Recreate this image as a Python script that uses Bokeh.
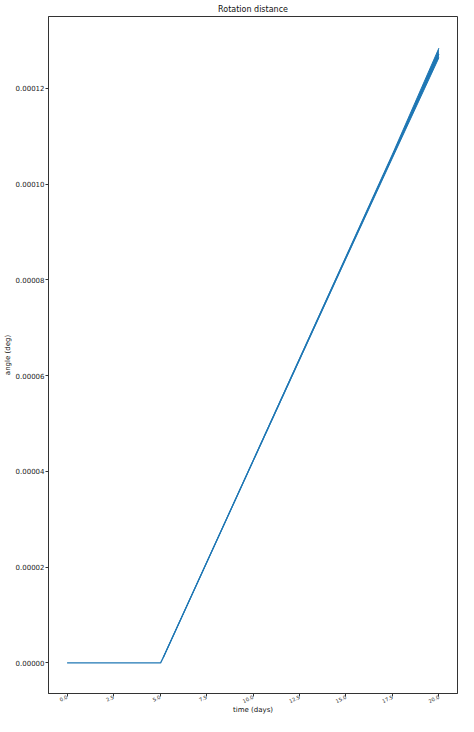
from bokeh.plotting import figure
from bokeh.models import FixedTicker, PrintfTickFormatter, Range1d
from bokeh.embed import file_html
from bokeh.resources import INLINE

# data
time_days = [0.0, 5.03, 5.17, 20.0]
angle_deg = [0.0, 0.0, 1.09e-6, 1.2715e-4]

# envelope of the small oscillations (thickening of the line)
band_time = [5.17, 10.0, 15.0, 17.5, 20.0]
band_low = [1.09e-6, 4.205e-5, 8.44e-5, 1.0545e-4, 1.264e-4]
band_high = [1.09e-6, 4.225e-5, 8.49e-5, 1.0625e-4, 1.284e-4]

x_ticks = [0.0, 2.5, 5.0, 7.5, 10.0, 12.5, 15.0, 17.5, 20.0]
y_ticks = [0.0, 2e-5, 4e-5, 6e-5, 8e-5, 1e-4, 1.2e-4]

FONT = "DejaVu Sans"
LINE = "#1f77b4"
EDGE = "#333333"

p = figure(width=458, height=716, output_backend="svg", toolbar_location=None,
           title="Rotation distance",
           x_range=Range1d(-1.0, 21.0), y_range=Range1d(-6.4e-6, 1.35e-4),
           min_border_left=4, min_border_right=1, min_border_top=0, min_border_bottom=0)

p.title.align = "center"
p.title.text_font = FONT
p.title.text_font_size = "8px"
p.title.text_font_style = "normal"
p.title.text_color = "#111111"
p.title.standoff = 5
p.title.offset = 0

p.varea(x=band_time, y1=band_low, y2=band_high, fill_color=LINE, fill_alpha=1.0)
p.line(x=band_time, y=band_low, line_color=LINE, line_width=1.0)
p.line(x=band_time, y=band_high, line_color=LINE, line_width=1.0)
p.line(x=time_days, y=angle_deg, line_color=LINE, line_width=1.3)

p.xgrid.visible = False
p.ygrid.visible = False
p.outline_line_color = EDGE
p.outline_line_width = 1
p.background_fill_color = "white"
p.border_fill_color = "white"

p.xaxis.ticker = FixedTicker(ticks=x_ticks)
p.xaxis.formatter = PrintfTickFormatter(format="%.1f")
p.xaxis.major_label_orientation = 0.45
p.xaxis.major_label_text_font_size = "5px"
p.xaxis.axis_label = "time (days)"

p.yaxis.ticker = FixedTicker(ticks=y_ticks)
p.yaxis.formatter = PrintfTickFormatter(format="%.5f")
p.yaxis.major_label_text_font_size = "7px"
p.yaxis.axis_label = "angle (deg)"

for ax in (p.xaxis[0], p.yaxis[0]):
    ax.axis_line_color = EDGE
    ax.major_tick_line_color = EDGE
    ax.minor_tick_line_color = None
    ax.major_tick_in = 0
    ax.major_tick_out = 3
    ax.major_label_text_font = FONT
    ax.major_label_text_color = "#222222"
    ax.major_label_standoff = 1
    ax.axis_label_text_font = FONT
    ax.axis_label_text_font_size = "7px"
    ax.axis_label_text_font_style = "normal"
    ax.axis_label_text_color = "#111111"
    ax.axis_label_standoff = 1

p.xaxis.major_label_standoff = 0
p.xaxis.major_label_text_line_height = 0.8
p.xaxis.axis_label_text_line_height = 0.8
p.xaxis.axis_label_standoff = -2

open("out.html", "w").write(file_html(p, INLINE))
